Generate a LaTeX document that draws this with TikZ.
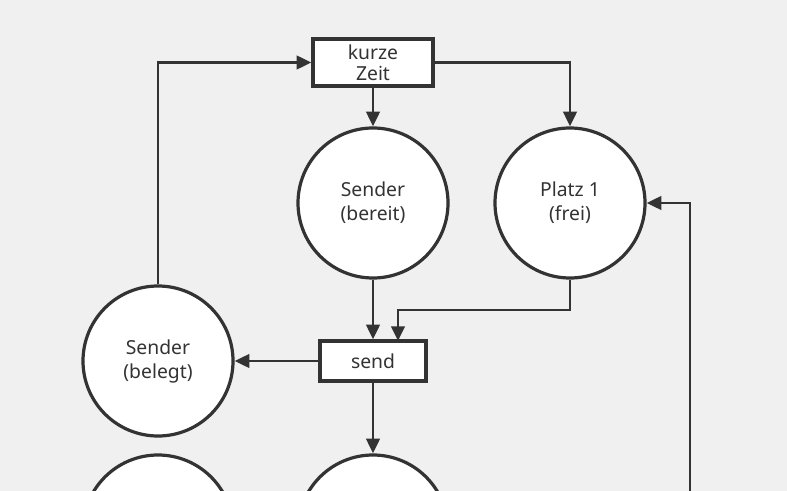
\documentclass[tikz,border=0pt]{standalone}
\usepackage{fontspec}
\setmainfont{Noto Sans}
\usetikzlibrary{arrows.meta}
\definecolor{bg}{HTML}{F0F0F0}
\definecolor{ln}{HTML}{333333}
\begin{document}
\begin{tikzpicture}[x=0.75pt,y=-0.75pt,
  circ/.style={circle,draw=ln,line width=2.4pt,fill=white,minimum size=150*0.75pt,inner sep=0pt,align=center,font=\fontsize{14.5pt}{18pt}\selectfont,text=ln},
  box/.style={rectangle,draw=ln,line width=2.4pt,fill=white,inner sep=0pt,align=center,font=\fontsize{14.5pt}{16pt}\selectfont,text=ln},
  arr/.style={draw=ln,line width=2.2pt,-{Triangle[length=11pt,width=10pt]}},
  ln/.style={draw=ln,line width=2pt}]
\fill[bg] (0,0) rectangle (787,491);
\useasboundingbox (0,0) rectangle (787,491);
\clip (0,0) rectangle (787,491);
\node[box,minimum width=120*0.75pt,minimum height=47*0.75pt] (kz) at (373,62.5) {kurze\\Zeit};
\node[circ] (sb) at (373,203) {Sender\\(bereit)};
\node[circ] (pl) at (570,203) {Platz 1\\(frei)};
\node[circ] (sl) at (158,361) {Sender\\(belegt)};
\node[box,minimum width=106*0.75pt,minimum height=40*0.75pt] (send) at (373,361) {send};
\node[circ] (b1) at (158,530) {};
\node[circ] (b2) at (373,530) {};
\coordinate (r0) at (690,491);
\draw[arr] (kz.south) -- (sb.north);
\draw[arr] (kz.east) -- (570,62.5) -- (pl.north);
\draw[arr] (sl.north) -- (158,62.5) -- (kz.west);
\draw[arr] (sb.south) -- (send.north);
\draw[arr] (pl.south) -- (570,310) -- (398,310) -- (398,341);
\draw[arr] (send.west) -- (sl.east);
\draw[arr] (send.south) -- (b2.north);
\draw[arr] (r0) -- (690,203) -- (pl.east);
\end{tikzpicture}
\end{document}
